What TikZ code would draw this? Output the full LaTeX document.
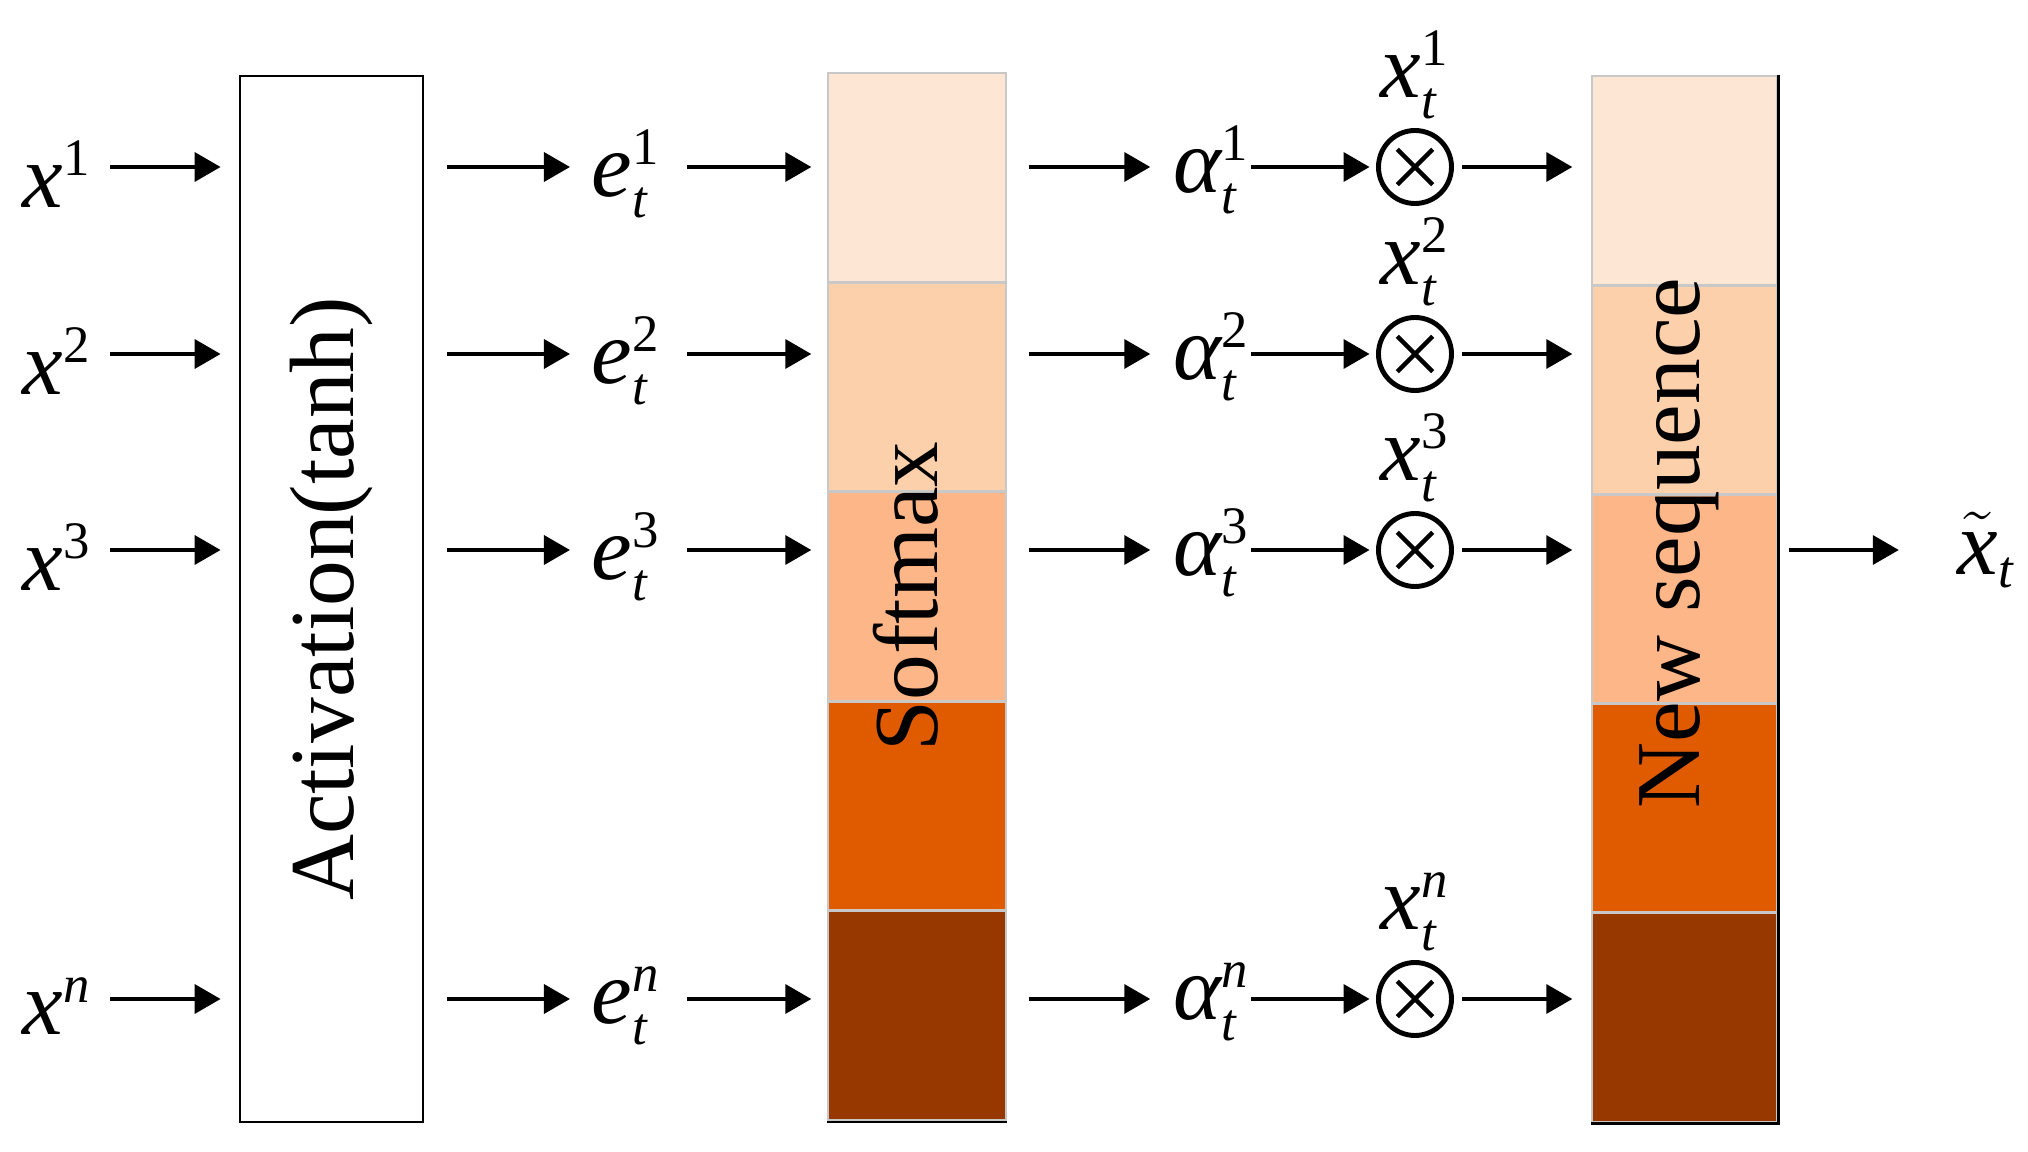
\documentclass[tikz,border=0pt]{standalone}
\usepackage{amsmath}
\usepackage{fontspec}
\setmainfont{Liberation Serif}
\usetikzlibrary{arrows.meta,positioning,calc}
\DeclareMathSizes{26}{26}{15}{11}
\definecolor{cellA}{RGB}{254,230,213}
\definecolor{cellB}{RGB}{253,208,172}
\definecolor{cellC}{RGB}{253,182,135}
\definecolor{cellD}{RGB}{224,90,0}
\definecolor{cellE}{RGB}{150,56,0}
\definecolor{cellline}{RGB}{200,200,200}
\newcommand\vsym[3]{$\text{\itshape #1}_{\text{\itshape #2}}^{\text{#3}}$}
\newcommand\vin[1]{$\text{\itshape x}^{\text{#1}}$}

\begin{document}
\begin{tikzpicture}[font=\fontsize{26}{31}\selectfont,
  arr/.style={-{Triangle[length=0.26cm,width=0.29cm]}, line width=1.05pt},
  lab/.style={inner sep=0pt},
  mult/.style={circle, draw, line width=1.4pt, minimum size=0.73cm, inner sep=0pt}]
\useasboundingbox (0,0) rectangle (20.28,11.51);
\coordinate (r1) at (0,9.84);
\coordinate (r2) at (0,7.97);
\coordinate (r3) at (0,6.01);
\coordinate (rn) at (0,1.52);
%
% activation box
\node[draw, line width=0.8pt, minimum width=1.83cm, minimum height=10.46cm, inner sep=0pt] (act) at (3.315,5.52) {};
\node[rotate=90] at (act) {Activation(tanh)};
%
% softmax bar
\foreach \c [count=\k] in {cellA,cellB,cellC,cellD,cellE}
  \filldraw[fill=\c, draw=cellline, line width=0.8pt] (8.28,{10.78-(\k-1)*2.094}) rectangle +(1.78,-2.094);
\draw[line width=0.6pt] (8.27,0.29) -- (10.07,0.29);
\node[minimum width=1.78cm, minimum height=10.47cm, inner sep=0pt] (soft) at (9.17,5.545) {};
\node[rotate=90] at ($(soft)+(-0.11,0)$) {Softmax};
%
% new sequence bar
\foreach \c [count=\k] in {cellA,cellB,cellC,cellD,cellE}
  \filldraw[fill=\c, draw=cellline, line width=0.8pt] (15.92,{10.75-(\k-1)*2.092}) rectangle +(1.85,-2.092);
\draw[line width=0.6pt] (17.785,10.76) -- (17.785,0.275) -- (15.91,0.275);
\node[minimum width=1.85cm, minimum height=10.46cm, inner sep=0pt] (new) at (16.845,5.52) {};
\node[rotate=90] at ($(new)+(-0.05,0.56)$) {New sequence};
%
% inputs
\node[lab] (x1) at ($(r1)+(0.57,-0.07)$) {\vin{1}};
\node[lab] (x2) at ($(r2)+(0.57,-0.07)$) {\vin{2}};
\node[lab] (x3) at ($(r3)+(0.57,-0.07)$) {\vin{3}};
\node[lab] (xn) at ($(rn)+(0.57,-0.07)$) {\vin{\itshape n}};
%
% scores
\node[lab] (e1) at ($(r1)+(6.26,-0.07)$) {\vsym{e}{t}{1}};
\node[lab] (e2) at ($(r2)+(6.26,-0.07)$) {\vsym{e}{t}{2}};
\node[lab] (e3) at ($(r3)+(6.26,-0.07)$) {\vsym{e}{t}{3}};
\node[lab] (en) at ($(rn)+(6.26,-0.07)$) {\vsym{e}{t}{\itshape n}};
%
% weights
\node[lab] (a1) at ($(r1)+(12.12,-0.03)$) {\vsym{α}{t}{1}};
\node[lab] (a2) at ($(r2)+(12.12,-0.03)$) {\vsym{α}{t}{2}};
\node[lab] (a3) at ($(r3)+(12.12,-0.03)$) {\vsym{α}{t}{3}};
\node[lab] (an) at ($(rn)+(12.12,-0.03)$) {\vsym{α}{t}{\itshape n}};
%
% products
\node[mult] (m1) at ($(r1)+(14.15,0)$) {};
\node[mult] (m2) at ($(r2)+(14.15,0)$) {};
\node[mult] (m3) at ($(r3)+(14.15,0)$) {};
\node[mult] (mn) at ($(rn)+(14.15,0)$) {};
\foreach \m in {m1,m2,m3,mn}
  \draw[line width=1.3pt] (\m.center) +(45:0.25) -- +(225:0.25) +(135:0.25) -- +(315:0.25);
\node[lab, above=0.08cm of m1] (xt1) {\vsym{x}{t}{1}};
\node[lab, above=0.08cm of m2] (xt2) {\vsym{x}{t}{2}};
\node[lab, above=0.08cm of m3] (xt3) {\vsym{x}{t}{3}};
\node[lab, above=0.08cm of mn] (xtn) {\vsym{x}{t}{\itshape n}};
%
\node[lab] (out) at ($(r3)+(19.86,0)$) {$\tilde{\text{\itshape x}}_{\text{\itshape t}}$};
%
% arrows
\foreach \r in {1,2,3,n}{
  \draw[arr, shorten <=0.18cm, shorten >=0.18cm] (x\r.east |- r\r) -- (act.west |- r\r);
  \draw[arr, shorten <=0.23cm, shorten >=0.21cm] (act.east |- r\r) -- (e\r.west |- r\r);
  \draw[arr, shorten <=0.26cm, shorten >=0.16cm] (e\r.east |- r\r) -- (soft.west |- r\r);
  \draw[arr, shorten <=0.22cm, shorten >=0.23cm] (soft.east |- r\r) -- (a\r.west |- r\r);
  \draw[arr, shorten >=0.065cm] (a\r.east |- r\r) -- (m\r.west);
  \draw[arr, shorten <=0.085cm, shorten >=0.19cm] (m\r.east) -- (new.west |- r\r);
}
\draw[arr, shorten <=0.11cm, shorten >=0.58cm] (new.east |- r3) -- (out.west |- r3);
%
\end{tikzpicture}
\end{document}
